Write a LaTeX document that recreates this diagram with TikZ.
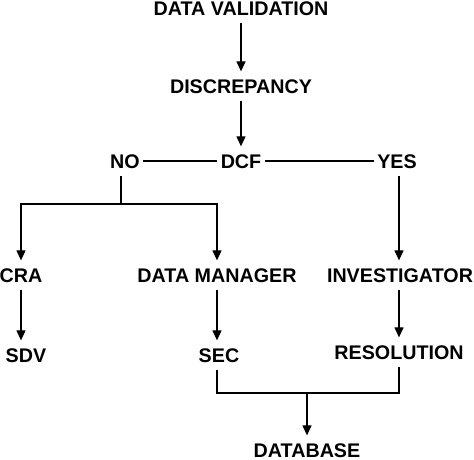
\documentclass[tikz,border=0pt]{standalone}
\usepackage{fontspec}
\setmainfont{Liberation Sans}
\usetikzlibrary{arrows.meta}

\begin{document}
\begin{tikzpicture}[x=1pt, y=-1pt,
    line width=1.2pt,
    every node/.style={font=\fontsize{19.7}{20}\selectfont\bfseries,
        text height=14.1pt, text depth=0pt, inner xsep=3pt, inner ysep=7pt},
    arr/.style={-{Triangle[length=10pt,width=9pt]}}]
    % Fix the frame
    \useasboundingbox (0,0) rectangle (474,459);
    % Draw the steps
    \node (dv)   at (241,8.5) {DATA VALIDATION};
    \node (disc) at (241,86)  {DISCREPANCY};
    \node (dcf)  at (241,161) {DCF};
    \node (no)   at (125,161) {NO};
    \node (yes)  at (397,161) {YES};
    \node (cra)  at (21,275)  {CRA};
    \node (dm)   at (217,275) {DATA MANAGER};
    \node (inv)  at (400,275) {INVESTIGATOR};
    \node (sdv)  at (26,355)  {SDV};
    \node (sec)  at (219,355) {SEC};
    \node (res)  at (399,352) {RESOLUTION};
    \node (db)   at (307,450) {DATABASE};
    % Branch points
    \coordinate (split) at (121,204);
    \coordinate (merge) at (307,393);
    % Draw the top arrows
    \draw[arr] (dv) -- (disc);
    \draw[arr] (disc) -- (dcf);
    % Draw the NO / YES lines
    \draw (no) -- (dcf);
    \draw (dcf) -- (yes);
    % Draw the NO branch
    \draw (no.south -| split) -- (split);
    \draw[arr] (split) -| (cra);
    \draw[arr] (split) -| (dm);
    % Draw the YES branch
    \draw[arr] (yes.south -| res) -- (res |- inv.north);
    % Draw the lower arrows
    \draw[arr] (cra) -- (cra |- sdv.north);
    \draw[arr] (dm) -- (dm |- sec.north);
    \draw[arr] (res |- inv.south) -- (res);
    % Draw the join into the database
    \draw (dm |- sec.south) |- (merge) -| (res);
    \draw[arr] (merge) -- (db);
\end{tikzpicture}
\end{document}
